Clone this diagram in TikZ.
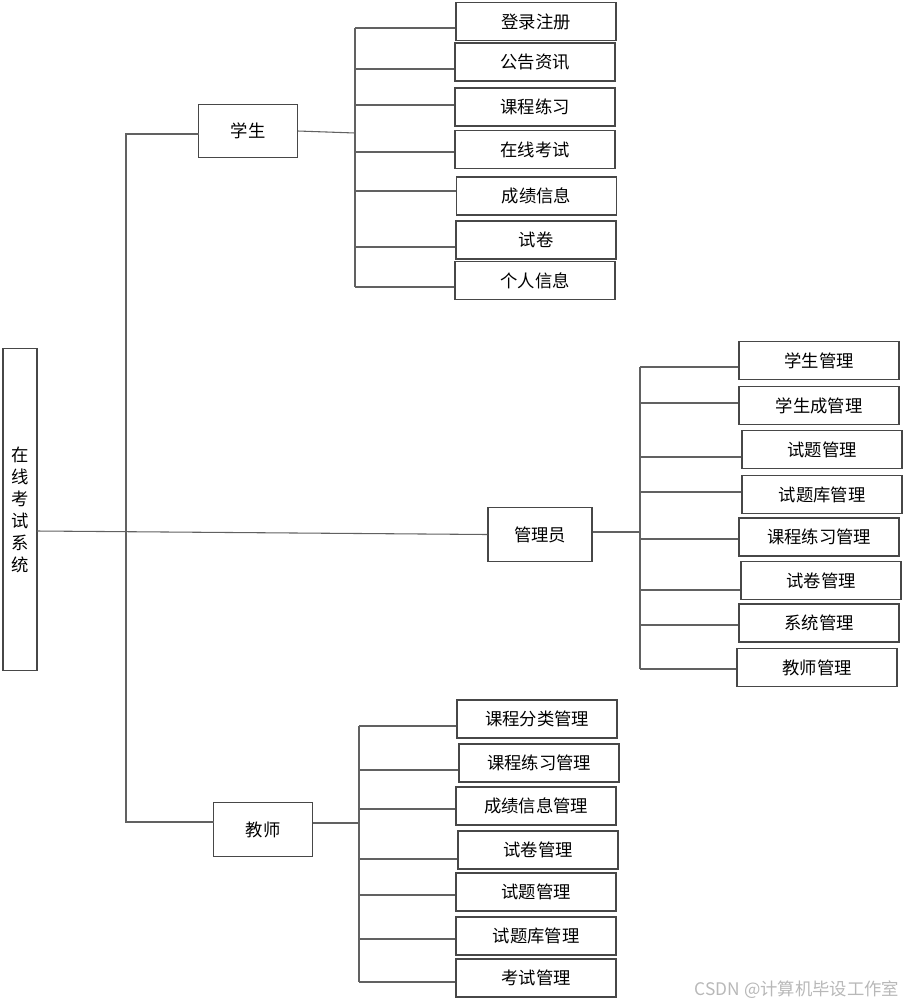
\documentclass[tikz,border=0pt]{standalone}
\usepackage{fontspec}
\setmainfont{Noto Sans CJK SC}
\usetikzlibrary{positioning}

\tikzset{
  box/.style={draw=black!72, line width=0.8pt, inner sep=0pt,
    minimum width=120pt, minimum height=28.5pt, font=\fontsize{13}{15}\selectfont},
  mainbox/.style={box, minimum width=74pt, minimum height=40pt},
  link/.style={draw=black!62, line width=0.8pt}
}

\begin{document}
\begin{tikzpicture}[x=0.75pt, y=-0.75pt]
  \useasboundingbox (0,0) rectangle (907,1004);

  % root and the three roles
  \node[box, minimum width=25.5pt, minimum height=241pt, align=center,
        font=\fontsize{13}{16.5}\selectfont] (root) at (20,509.5)
        {在\\线\\考\\试\\系\\统};
  \node[mainbox] (stu) at (248,131) {学生};
  \node[mainbox, minimum width=78pt] (adm) at (540,534.5) {管理员};
  \node[mainbox] (tea) at (263,829.5) {教师};

  % student functions
  \node[box] (s1) at (536,21.5) {登录注册};
  \node[box] (s2) at (535,62) {公告资讯};
  \node[box] (s3) at (535,107) {课程练习};
  \node[box] (s4) at (535,149.5) {在线考试};
  \node[box] (s5) at (536.5,196) {成绩信息};
  \node[box] (s6) at (536,240) {试卷};
  \node[box] (s7) at (535,280.5) {个人信息};

  % admin functions
  \node[box] (a1) at (819,360.5) {学生管理};
  \node[box] (a2) at (819,405.5) {学生成管理};
  \node[box] (a3) at (822,449.5) {试题管理};
  \node[box] (a4) at (822,494.5) {试题库管理};
  \node[box] (a5) at (819,537) {课程练习管理};
  \node[box] (a6) at (821,580.5) {试卷管理};
  \node[box] (a7) at (819,623) {系统管理};
  \node[box] (a8) at (817,667.5) {教师管理};

  % teacher functions
  \node[box] (t1) at (537,719) {课程分类管理};
  \node[box] (t2) at (539,763) {课程练习管理};
  \node[box] (t3) at (536,806) {成绩信息管理};
  \node[box] (t4) at (538,850) {试卷管理};
  \node[box] (t5) at (536,892) {试题管理};
  \node[box] (t6) at (536,936) {试题库管理};
  \node[box] (t7) at (536,978) {考试管理};

  % trunk
  \coordinate (rj) at (37,531);
  \coordinate (trk) at (126,0);
  \coordinate (stj) at (199,134);
  \coordinate (tj) at (214,822);
  \draw[link] (rj) -- (adm.west);
  \draw[link] (stj) -- (stj -| trk) -- (tj -| trk) -- (tj);

  % buses
  \foreach \i/\y in {1/28,2/69,3/105,4/152,5/191,6/247,7/287}
  {
    \coordinate (sb\i) at (355,\y);
    \draw[link] (sb\i) -- (sb\i -| s\i.west);
  }
  \draw[link] (sb1) -- (sb7);
  \draw[link] (stu.east) -- (sb1 |- 0,133);

  \foreach \i/\y in {1/367,2/403,3/457,4/492,5/539,6/590,7/625,8/669}
  {
    \coordinate (ab\i) at (640,\y);
    \draw[link] (ab\i) -- (ab\i -| a\i.west);
  }
  \draw[link] (ab1) -- (ab8);
  \draw[link] (adm.east |- 0,532) -- (ab1 |- 0,532);

  \foreach \i/\y in {1/726,2/770,3/809,4/859,5/895,6/939,7/982}
  {
    \coordinate (tb\i) at (359,\y);
    \draw[link] (tb\i) -- (tb\i -| t\i.west);
  }
  \draw[link] (tb1) -- (tb7);
  \draw[link] (tea.east |- 0,823) -- (tb1 |- 0,823);

  % watermark
  \node[text=black!28, font=\fontsize{13}{15}\selectfont, anchor=east] (wm) at (904,990)
    {CSDN @计算机毕设工作室};
\end{tikzpicture}
\end{document}
